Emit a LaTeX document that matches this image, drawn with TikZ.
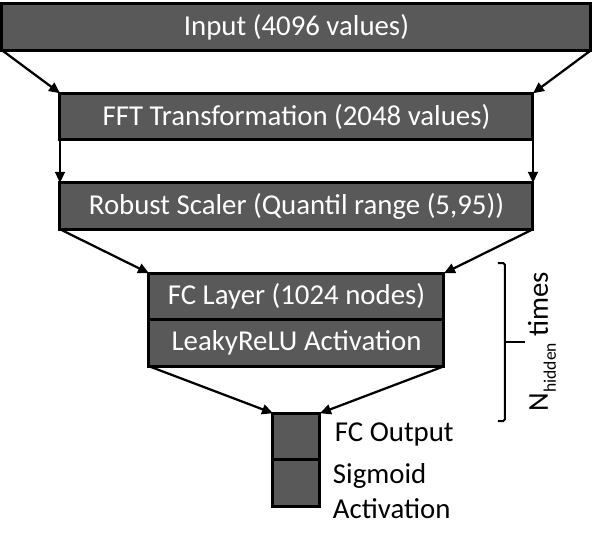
\documentclass[tikz,border=0pt]{standalone}
\usepackage{fontspec}
\setmainfont{Carlito}
\usetikzlibrary{positioning,arrows.meta}
\definecolor{boxgray}{RGB}{89,89,89}

\begin{document}
\begin{tikzpicture}[
        layer/.style={draw=black, fill=boxgray, text=white, line width=0.06cm,
            inner sep=0pt, outer sep=0pt, minimum height=0.93cm},
        flow/.style={-{Triangle[length=0.22cm,width=0.2cm]}, line width=0.045cm},
        lbl/.style={inner sep=0pt, outer sep=0pt, align=left},
        font=\fontsize{16.4}{19.9}\selectfont]
        \useasboundingbox (-5.93,0.54) rectangle (5.95,-10.34);

        \node[layer, minimum width=11.78cm] (input) at (0,0) {Input (4096 values)};
        \node[layer, minimum width=9.46cm, below=0.86cm of input] (fft) {FFT Transformation (2048 values)};
        \node[layer, minimum width=9.46cm, below=0.86cm of fft] (scaler) {Robust Scaler (Quantil range (5,95))};
        \node[layer, minimum width=5.9cm, below=0.88cm of scaler] (fc) {FC Layer (1024 nodes)};
        \node[layer, minimum width=5.9cm, below=0cm of fc] (leaky) {LeakyReLU Activation};
        \node[layer, minimum width=0.94cm, below=0.94cm of leaky] (fcout) {};
        \node[layer, minimum width=0.94cm, below=0cm of fcout] (sigm) {};

        \node[lbl, right=0.3cm of fcout, yshift=0.04cm] (fcoutlbl) {FC Output};
        \node[lbl, right=0.26cm of sigm, yshift=-0.16cm] (sigmlbl) {Sigmoid\\Activation};

        \draw[flow] (input.south west) -- (fft.north west);
        \draw[flow] (input.south east) -- (fft.north east);
        \draw[flow] (fft.south west) -- (scaler.north west);
        \draw[flow] (fft.south east) -- (scaler.north east);
        \draw[flow] (scaler.south west) -- (fc.north west);
        \draw[flow] (scaler.south east) -- (fc.north east);
        \draw[flow] (leaky.south west) -- (fcout.north west);
        \draw[flow] (leaky.south east) -- (fcout.north east);

        \draw[line width=0.04cm, rounded corners=1pt] (4.03,-4.72) -- (4.17,-4.72) -- (4.17,-7.88) -- (4.03,-7.88);
        \draw[line width=0.04cm] (4.17,-6.30) -- (4.57,-6.30);

        \node[lbl, rotate=90] (repeat) at (4.91,-6.29) {N\raisebox{-0.28em}{\fontsize{10}{12}\selectfont hidden}\ times};
    \end{tikzpicture}
\end{document}
